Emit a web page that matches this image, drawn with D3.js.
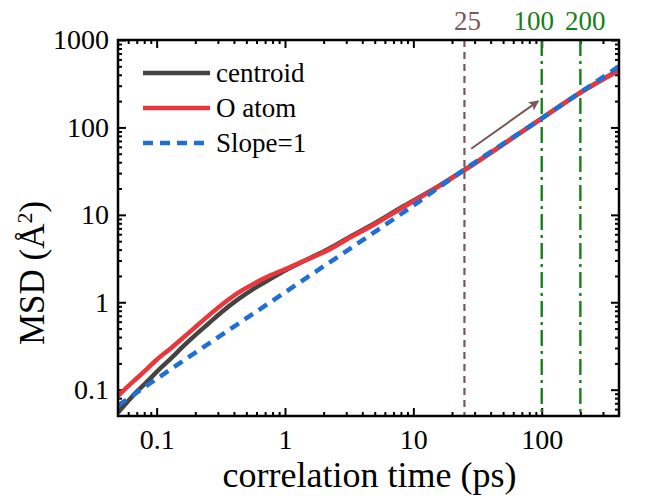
<!DOCTYPE html>
<html>
<head>
<meta charset="utf-8">
<script src="https://cdn.jsdelivr.net/npm/d3@7"></script>
<style>
  body { margin: 0; background: #fff; }
  svg { font-family: "Liberation Serif", "Times New Roman", serif; }
</style>
</head>
<body>
<div id="chart"></div>
<script>
// data
const timeCentroid = [0.05, 0.06, 0.07, 0.085, 0.1, 0.13, 0.16, 0.2, 0.25, 0.32, 0.43, 0.55, 0.7, 1, 1.5, 2.2, 3, 5, 8.4, 15, 25, 50, 100, 200, 400];
const msdCentroid  = [0.055, 0.074, 0.095, 0.125, 0.16, 0.23, 0.31, 0.42, 0.56, 0.77, 1.08, 1.38, 1.7, 2.3, 3.1, 4.1, 5.3, 8.0, 12.6, 20.5, 32.6, 64, 127, 250, 455];
const timeOxygen   = [0.05, 0.06, 0.07, 0.085, 0.1, 0.13, 0.16, 0.2, 0.25, 0.32, 0.43, 0.55, 0.7, 1, 1.5, 2.2, 3, 5, 8.4, 15, 25, 50, 100, 200, 400];
const msdOxygen    = [0.085, 0.11, 0.135, 0.175, 0.22, 0.3, 0.39, 0.52, 0.69, 0.93, 1.28, 1.58, 1.9, 2.38, 3.1, 4.0, 5.2, 7.8, 12.3, 20.2, 32.4, 64, 127, 250, 450];
const timeSlope    = [0.05, 0.1, 1, 10, 25, 100, 200, 400];
const msdSlope     = [0.066, 0.133, 1.3, 12.8, 33, 127, 252, 500];

const markTimes  = [25, 100, 200];
const markLabels = ["25", "100", "200"];
const arrowFrom  = [28.2, 57];
const arrowTo    = [94, 200];

const xTicks = [0.1, 1, 10, 100];
const yTicks = [0.1, 1, 10, 100, 1000];
const legendNames = ["centroid", "O atom", "Slope=1"];

const width = 667, height = 500;
const margin = {left: 118, right: 48, top: 40, bottom: 84};

const svg = d3.select("#chart").append("svg")
    .attr("width", width)
    .attr("height", height);

const x = d3.scaleLog().domain([0.05, 400]).range([margin.left, width - margin.right]);
const y = d3.scaleLog().domain([0.05, 1000]).range([height - margin.bottom, margin.top]);

// minor tick values (2..9 of each decade inside the domain)
function minors(scale) {
    const [a, b] = scale.domain();
    const out = [];
    for (let e = -3; e <= 4; e++) {
        for (let m = 2; m <= 9; m++) {
            const v = m * Math.pow(10, e);
            if (v > a * 1.0001 && v < b * 0.9999) out.push(v);
        }
    }
    return out;
}

const tickFont = 28;
const pLeft = margin.left, pRight = width - margin.right;
const pTop = margin.top, pBottom = height - margin.bottom;

// bottom axis
svg.append("g")
    .attr("transform", `translate(0,${pBottom})`)
    .call(d3.axisBottom(x).tickValues(xTicks).tickSize(-8).tickPadding(13).tickFormat(d3.format("~g")))
    .call(g => g.select(".domain").remove())
    .call(g => g.selectAll("text").attr("font-size", tickFont).attr("font-family", "Liberation Serif").attr("fill", "#000"));
svg.append("g")
    .attr("transform", `translate(0,${pBottom})`)
    .call(d3.axisBottom(x).tickValues(minors(x)).tickSize(-4).tickFormat(""))
    .call(g => g.select(".domain").remove());

// top axis
svg.append("g")
    .attr("transform", `translate(0,${pTop})`)
    .call(d3.axisTop(x).tickValues(xTicks).tickSize(-8).tickFormat(""))
    .call(g => g.select(".domain").remove());
svg.append("g")
    .attr("transform", `translate(0,${pTop})`)
    .call(d3.axisTop(x).tickValues(minors(x)).tickSize(-4).tickFormat(""))
    .call(g => g.select(".domain").remove());

// left axis
svg.append("g")
    .attr("transform", `translate(${pLeft},0)`)
    .call(d3.axisLeft(y).tickValues(yTicks).tickSize(-8).tickPadding(9).tickFormat(d3.format("~g")))
    .call(g => g.select(".domain").remove())
    .call(g => g.selectAll("text").attr("font-size", tickFont).attr("font-family", "Liberation Serif").attr("fill", "#000"));
svg.append("g")
    .attr("transform", `translate(${pLeft},0)`)
    .call(d3.axisLeft(y).tickValues(minors(y)).tickSize(-4).tickFormat(""))
    .call(g => g.select(".domain").remove());

// right axis
svg.append("g")
    .attr("transform", `translate(${pRight},0)`)
    .call(d3.axisRight(y).tickValues(yTicks).tickSize(-8).tickFormat(""))
    .call(g => g.select(".domain").remove());
svg.append("g")
    .attr("transform", `translate(${pRight},0)`)
    .call(d3.axisRight(y).tickValues(minors(y)).tickSize(-4).tickFormat(""))
    .call(g => g.select(".domain").remove());

svg.selectAll(".tick line").attr("stroke", "#000").attr("stroke-width", 2);

// clip for data
svg.append("clipPath").attr("id", "clip")
    .append("rect")
    .attr("x", pLeft).attr("y", pTop)
    .attr("width", pRight - pLeft).attr("height", pBottom - pTop);

const plot = svg.append("g").attr("clip-path", "url(#clip)");

// vertical marker lines
plot.append("line")
    .attr("x1", x(markTimes[0])).attr("x2", x(markTimes[0]))
    .attr("y1", pTop).attr("y2", pBottom)
    .attr("stroke", "#7a5858").attr("stroke-width", 2.2)
    .attr("stroke-dasharray", "7,5");

plot.selectAll(".green")
    .data(markTimes.slice(1))
    .join("line")
    .attr("x1", d => x(d)).attr("x2", d => x(d))
    .attr("y1", pTop).attr("y2", pBottom)
    .attr("stroke", "#17801a").attr("stroke-width", 2.4)
    .attr("stroke-dasharray", "16,5,3,5");

const line = d3.line()
    .x(d => x(d[0]))
    .y(d => y(d[1]))
    .curve(d3.curveMonotoneX);

const centroid = d3.zip(timeCentroid, msdCentroid);
const oxygen = d3.zip(timeOxygen, msdOxygen);
const slope = d3.zip(timeSlope, msdSlope);

plot.append("path").datum(centroid)
    .attr("d", line).attr("fill", "none")
    .attr("stroke", "#444444").attr("stroke-width", 4.5);

plot.append("path").datum(oxygen)
    .attr("d", line).attr("fill", "none")
    .attr("stroke", "#e8383d").attr("stroke-width", 4.5);

plot.append("path").datum(slope)
    .attr("d", line).attr("fill", "none")
    .attr("stroke", "#1f6fd6").attr("stroke-width", 4.5)
    .attr("stroke-dasharray", "10,7");

// arrow
svg.append("defs").append("marker")
    .attr("id", "head")
    .attr("viewBox", "0 0 10 10")
    .attr("refX", 9).attr("refY", 5)
    .attr("markerWidth", 7).attr("markerHeight", 5)
    .attr("markerUnits", "strokeWidth")
    .attr("orient", "auto")
    .append("path")
    .attr("d", "M0,0 L10,5 L0,10 L2,5 Z")
    .attr("fill", "#7a5858");

svg.append("line")
    .attr("x1", x(arrowFrom[0])).attr("y1", y(arrowFrom[1]))
    .attr("x2", x(arrowTo[0])).attr("y2", y(arrowTo[1]))
    .attr("stroke", "#7a5858").attr("stroke-width", 2)
    .attr("marker-end", "url(#head)");

// labels above the plot (nudged apart like the original)
const labelShift = [3, -8, 5];
svg.selectAll(".marklabel")
    .data(markTimes)
    .join("text")
    .attr("x", (d, i) => x(d) + labelShift[i])
    .attr("y", pTop - 10)
    .attr("text-anchor", "middle")
    .attr("font-size", 27)
    .attr("fill", (d, i) => i === 0 ? "#7a5858" : "#17801a")
    .text((d, i) => markLabels[i]);

// frame
svg.append("rect")
    .attr("x", pLeft).attr("y", pTop)
    .attr("width", pRight - pLeft).attr("height", pBottom - pTop)
    .attr("fill", "none").attr("stroke", "#000").attr("stroke-width", 2.5);

// legend
const legendColors = ["#444444", "#e8383d", "#1f6fd6"];
const legendDash = [null, null, "10,7"];
const leg = svg.append("g");
legendNames.forEach((name, i) => {
    const ly = 73 + i * 35;
    leg.append("line")
        .attr("x1", 143).attr("x2", 210)
        .attr("y1", ly).attr("y2", ly)
        .attr("stroke", legendColors[i]).attr("stroke-width", 4.5)
        .attr("stroke-dasharray", legendDash[i]);
    leg.append("text")
        .attr("x", 216).attr("y", ly + 9)
        .attr("font-size", 27)
        .text(name);
});

// axis titles
svg.append("text")
    .attr("x", (pLeft + pRight) / 2 + 1)
    .attr("y", 487)
    .attr("text-anchor", "middle")
    .attr("font-size", 36)
    .text("correlation time (ps)");

svg.append("text")
    .attr("transform", "translate(44,273) rotate(-90)")
    .attr("text-anchor", "middle")
    .attr("font-size", 35)
    .html('MSD (Å<tspan baseline-shift="super" font-size="22">2</tspan>)');
</script>
</body>
</html>
